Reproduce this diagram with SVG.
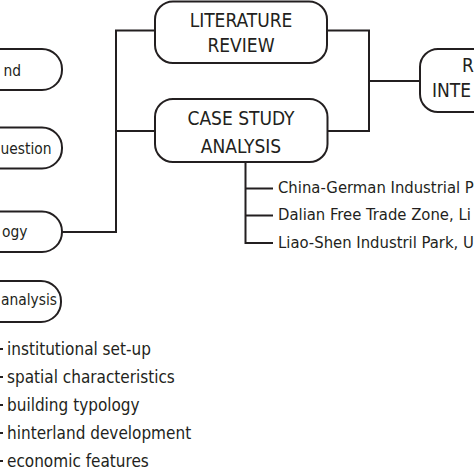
<svg xmlns="http://www.w3.org/2000/svg" width="474" height="474" viewBox="0 0 474 474">
<style>
.box{fill:#fff;stroke:#231f20;stroke-width:2}
.ln{fill:none;stroke:#231f20;stroke-width:2}
.t{font-family:"DejaVu Sans Condensed","DejaVu Sans","Liberation Sans",sans-serif;font-stretch:condensed;fill:#231f20}
.big{font-size:19px}
.lst{font-size:17px}
.mid{font-size:16.5px}
.sm{font-size:15.4px}
</style>
<rect width="474" height="474" fill="#fff"/>
<g id="connectors">
<path class="ln" d="M62 232 H116 V30.5 H155 M116 131 H155"/>
<path class="ln" d="M327 30.5 H369 V131 H327 M369 81 H420"/>
<path class="ln" d="M245.5 162 V243 H273 M245.5 188.5 H273 M245.5 215.5 H273"/>
<path class="ln" d="M0 349 H3 M0 377 H3 M0 405 H3 M0 433 H3 M0 461 H3"/>
</g>
<g id="lit-review">
<rect class="box" x="155" y="1.5" width="172" height="61.5" rx="18"/>
<text class="t big" x="241" y="27" text-anchor="middle">LITERATURE</text>
<text class="t big" x="241" y="52" text-anchor="middle">REVIEW</text>
</g>
<g id="case-study">
<rect class="box" x="155" y="99" width="172.5" height="63" rx="18"/>
<text class="t big" x="241" y="125" text-anchor="middle">CASE STUDY</text>
<text class="t big" x="241" y="153" text-anchor="middle">ANALYSIS</text>
</g>
<g id="result">
<rect class="box" x="420" y="49" width="120" height="63" rx="18"/>
<text class="t big" x="462" y="72">R</text>
<text class="t big" x="432" y="97">INTE</text>
</g>
<g id="background">
<rect class="box" x="-40" y="49" width="102" height="41" rx="20"/>
<text class="t sm" x="21" y="76" text-anchor="end">nd</text>
</g>
<g id="question">
<rect class="box" x="-40" y="127.5" width="102" height="41" rx="20"/>
<text class="t sm" x="51.5" y="154" text-anchor="end">uestion</text>
</g>
<g id="methodology">
<rect class="box" x="-40" y="211.5" width="102" height="40.5" rx="20"/>
<text class="t sm" x="27.5" y="236.5" text-anchor="end">ogy</text>
</g>
<g id="analysis">
<rect class="box" x="-40" y="281" width="101" height="41" rx="20"/>
<text class="t sm" x="57" y="305" text-anchor="end">analysis</text>
</g>
<g id="cases">
<text class="t mid" x="278" y="193">China-German Industrial P</text>
<text class="t mid" x="278" y="220">Dalian Free Trade Zone, Li</text>
<text class="t mid" x="278" y="248">Liao-Shen Industril Park, U</text>
</g>
<g id="features">
<text class="t lst" x="7" y="355">institutional set-up</text>
<text class="t lst" x="7" y="383">spatial characteristics</text>
<text class="t lst" x="7" y="411">building typology</text>
<text class="t lst" x="7" y="439">hinterland development</text>
<text class="t lst" x="7" y="467">economic features</text>
</g>
</svg>
